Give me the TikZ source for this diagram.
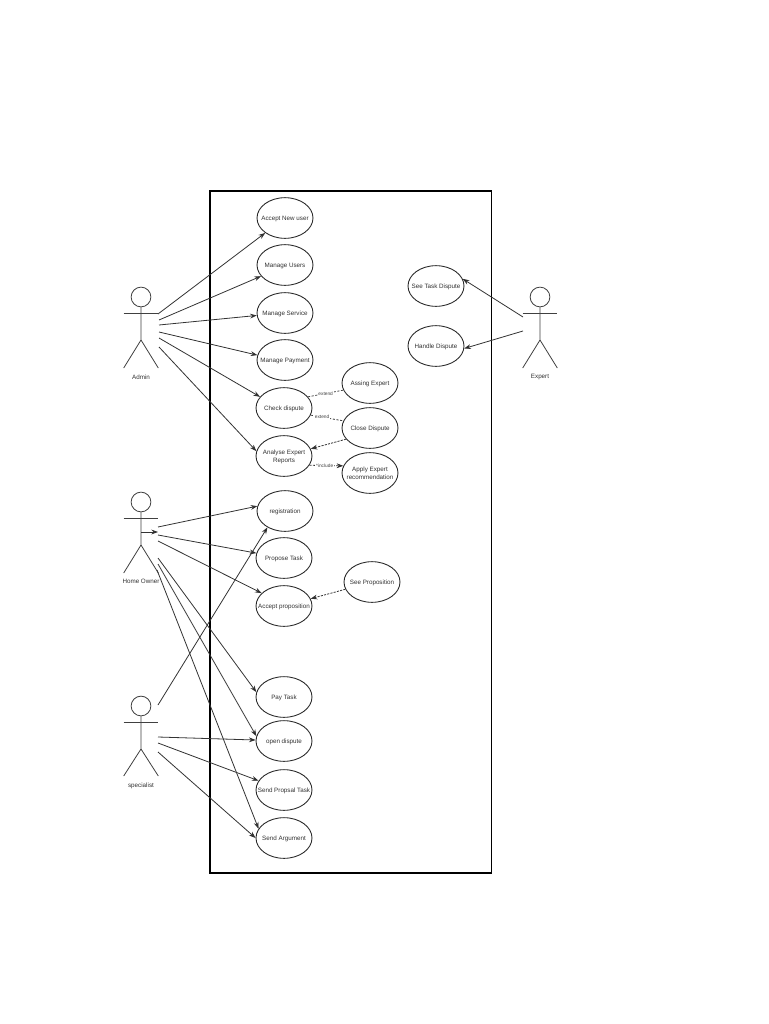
\documentclass[tikz,border=0pt]{standalone}
\usepackage{fontspec}
\setmainfont{Liberation Sans}
\usetikzlibrary{arrows.meta,shapes.geometric}
\newcommand{\uc}[1]{\smash{\raisebox{-1.9pt}{\makebox[0pt]{\begin{tabular}{@{}c@{}}#1\end{tabular}}}}}
\tikzset{
  usecase/.style={draw=black!85,ellipse,minimum width=42pt,minimum height=30.5pt,inner sep=0pt,line width=.65pt,font=\fontsize{4.7}{6.4}\selectfont,text=black!80},
  assoc/.style={draw=black!80,line width=.6pt,-{Stealth[length=5pt,width=3.6pt,fill=black]}},
  dep/.style={draw=black!80,line width=.6pt,dash pattern=on 1.6pt off .9pt,-{Stealth[length=5pt,width=3.6pt,fill=black]}},
  depplain/.style={draw=black!75,line width=.6pt,dash pattern=on 1.6pt off 1.2pt},
  limb/.style={draw=black!75,line width=.6pt},
  actorname/.style={font=\fontsize{4.7}{6}\selectfont,text=black!80,inner sep=0pt},
  deplabel/.style={font=\fontsize{3.6}{4.5}\selectfont,text=black!75,inner sep=.5pt,fill=white},
}
\newcommand{\stickman}[3]{%
  \draw[limb] (#1,#2-16) circle[radius=7.4pt];
  \draw[limb] (#1-17.3,#2) -- (#1+17.3,#2);
  \draw[limb] (#1,#2-6) -- (#1,#2+27) -- (#1-17.3,#2+#3);
  \draw[limb] (#1,#2+27) -- (#1+17.3,#2+#3);
}
\begin{document}
\begin{tikzpicture}[x=.75pt,y=-.75pt]
\useasboundingbox (0,0) rectangle (768,1024);
\fill[white] (0,0) rectangle (768,1024);
\node[draw=black,line width=.85pt,minimum width=211pt,minimum height=511.5pt,inner sep=0pt] (frame) at (350.7,532) {};
\node[usecase] (accept) at (285,218) {\uc{Accept New user}};
\node[usecase] (users) at (285,265) {\uc{Manage Users}};
\node[usecase] (service) at (285,313) {\uc{Manage Service}};
\node[usecase] (payment) at (285,360) {\uc{Manage Payment}};
\node[usecase] (check) at (284,408) {\uc{Check dispute}};
\node[usecase] (analyse) at (284,456) {\uc{Analyse Expert\\Reports}};
\node[usecase] (regist) at (285,511) {\uc{registration}};
\node[usecase] (propose) at (284,558) {\uc{Propose Task}};
\node[usecase] (acceptp) at (284,606) {\uc{Accept proposition}};
\node[usecase] (pay) at (284,697) {\uc{Pay Task}};
\node[usecase] (open) at (284,741) {\uc{open dispute}};
\node[usecase] (send) at (284,790) {\uc{Send Propsal Task}};
\node[usecase] (argue) at (284,838) {\uc{Send Argument}};
\node[usecase] (assign) at (370,383) {\uc{Assing Expert}};
\node[usecase] (close) at (370,428) {\uc{Close Dispute}};
\node[usecase] (apply) at (370,473) {\uc{Apply Expert\\recommendation}};
\node[usecase] (seeprop) at (372,582) {\uc{See Proposition}};
\node[usecase] (seetask) at (436,286) {\uc{See Task Dispute}};
\node[usecase] (handle) at (436,346) {\uc{Handle Dispute}};

\stickman{141}{313}{55}
\stickman{141}{518}{55}
\stickman{141}{722}{54}
\stickman{540}{313}{55}
\node[actorname] (admin) at (141,377) {Admin};
\node[actorname] (owner) at (141,581) {Home Owner};
\node[actorname] (spec) at (141,786) {specialist};
\node[actorname] (expert) at (540,377) {Expert};

\coordinate (a1) at (158,314);
\coordinate (a2) at (159,320);
\coordinate (a3) at (159,325);
\coordinate (a4) at (159,332);
\coordinate (a5) at (159,338);
\coordinate (a6) at (159,347);
\draw[assoc] (a1) -- (accept.217);
\draw[assoc] (a2) -- (users.205);
\draw[assoc] (a3) -- (service.185);
\draw[assoc] (a4) -- (payment.170);
\draw[assoc] (a5) -- (check.155);
\draw[assoc] (a6) -- (analyse.170);

\coordinate (h0) at (141,532);
\coordinate (h1) at (158,532);
\coordinate (h2) at (158,527);
\coordinate (h3) at (158,535);
\coordinate (h4) at (158,541);
\coordinate (h5) at (158,558);
\coordinate (h6) at (158,564);
\coordinate (h7) at (157,570);
\draw[assoc] (h0) -- (h1);
\draw[assoc] (h2) -- (regist.170);
\draw[assoc] (h3) -- (propose.170);
\draw[assoc] (h4) -- (acceptp.150);
\draw[assoc] (h5) -- (pay.170);
\draw[assoc] (h6) -- (open.170);
\draw[assoc] (h7) -- (argue.160);

\coordinate (s1) at (158,705);
\coordinate (s2) at (158,737);
\coordinate (s3) at (158,743);
\coordinate (s4) at (158,752);
\draw[assoc] (s1) -- (regist.223);
\draw[assoc] (s2) -- (open.178);
\draw[assoc] (s3) -- (send.160);
\draw[assoc] (s4) -- (argue.180);

\coordinate (e1) at (523,317);
\coordinate (e2) at (523,331);
\draw[assoc] (e1) -- (seetask.15);
\draw[assoc] (e2) -- (handle.-5);

\draw[depplain] (check.25) -- node[deplabel,pos=.5] (l1) {extend} (assign.195);
\draw[depplain] (check.-15) -- node[deplabel,pos=.35] (l2) {extend} (close.165);
\draw[dep] (close.205) -- (analyse.15);
\draw[dep] (analyse.-20) -- node[deplabel,pos=.45] (l3) {*include} (apply.165);
\draw[dep] (seeprop) -- (acceptp);
\end{tikzpicture}
\end{document}
